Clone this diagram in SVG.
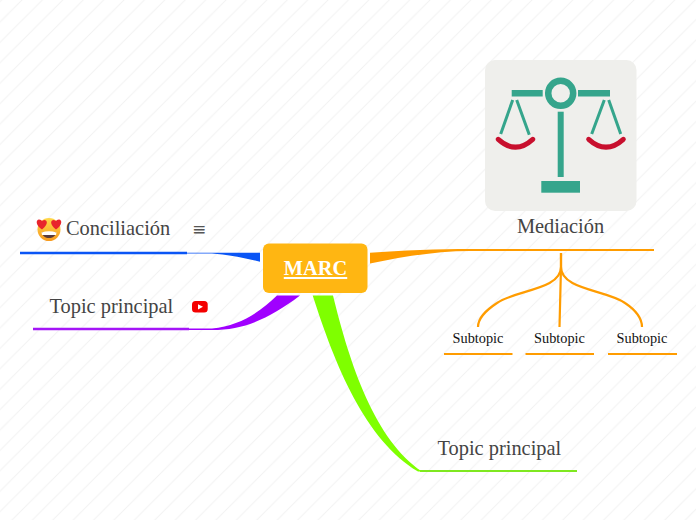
<svg xmlns="http://www.w3.org/2000/svg" width="696" height="520" viewBox="0 0 696 520">
<style>
.t{font-family:"Liberation Serif","Times New Roman",serif;fill:#444;font-size:20.4px}
.c{text-anchor:middle}
.s{font-family:"Liberation Serif","Times New Roman",serif;fill:#111;font-size:14.3px;text-anchor:middle}
.or{fill:none;stroke:#ff9c00;stroke-width:2.2}
.teal{fill:#35a58c}
.tl{stroke:#35a58c;stroke-width:3;fill:none}
.pan{stroke:#c8102e;stroke-width:5;stroke-linecap:round;fill:none}
</style>
<defs>
<pattern id="bg" patternUnits="userSpaceOnUse" width="20.4" height="20.4" patternTransform="translate(1.6 0)">
<path d="M-2,22.4 L22.4,-2 M-2,2 L2,-2 M18.4,22.4 L22.4,18.4" stroke="#f2f2f2" stroke-width="1" fill="none"/>
</pattern>
<linearGradient id="face" x1="0" y1="0" x2="0" y2="1"><stop offset="0" stop-color="#ffd84a"/><stop offset="1" stop-color="#f79a1e"/></linearGradient>
</defs>
<rect id="background" width="696" height="520" fill="#fff"/>
<rect width="696" height="520" fill="url(#bg)"/>
<g id="connectors">
<path d="M20,253 H187" stroke="#0a55f5" stroke-width="2.500" fill="none"/>
<path d="M187,252.700 H260 V261.700 C245,258 228,254.500 212,253.500 H187 Z" fill="#0a55f5"/>
<path d="M33,329 H189" stroke="#a415f7" stroke-width="2.500" fill="none"/>
<path d="M189,328.500 H212 C240,326 260,312 277,295.500 H300 C270,318 245,330 212,330 H189 Z" fill="#a000ff"/>
<path d="M468,250 H654" class="or"/>
<path d="M370,252.700 C400,250.500 440,249 470,249 V251 C440,251 405,256 370,263.500 Z" fill="#ff9c00"/>
<path d="M420,471 H577" stroke="#7fe820" stroke-width="2" fill="none"/>
<path d="M312.700,295.500 C335,365 365,440 418,471.500 H422 C375,440 350,365 333,295.500 Z" fill="#7fff00"/>
<path d="M561,253 V267 C561,290 515,290 497,303 C485,311 478,318 478,327" class="or"/>
<path d="M561,253 V267 L559.500,327" class="or"/>
<path d="M561,267 C561,290 607,290 625,303 C637,311 642,318 642,327" class="or"/>
<path d="M444,354 H512.500 M525.500,354 H594 M608,354 H677" class="or"/>
</g>
<g id="node-conciliacion">
<circle cx="49" cy="229.500" r="11.500" fill="url(#face)"/>
<path d="M42,232 H56 C56,240 42,240 42,232 Z" fill="#5a3a3a"/>
<path d="M41.500,232.500 Q49,230 56.500,232.500 L56,235 H42 Z" fill="#fff"/>
<path d="M42,229.500 C35,225 36,219.500 39,219.500 C41,219.500 42,221 42,221 C42,221 44,219 46,220.500 C48.500,223 45,227 42,229.500 Z" fill="#e8242c"/>
<path d="M56,229.500 C63,225 62,219.500 59,219.500 C57,219.500 56,221 56,221 C56,221 54,219 52,220.500 C49.500,223 53,227 56,229.500 Z" fill="#e8242c"/>
<text class="t" x="66" y="235">Conciliación</text>
<text x="199" y="235" font-family="DejaVu Sans, sans-serif" font-size="17" fill="#555" text-anchor="middle">≡</text>
</g>
<g id="node-topic-left">
<text class="t" x="49.500" y="313">Topic principal</text>
<rect x="192" y="301" width="15.700" height="11.500" rx="3.500" fill="#f40000"/>
<path d="M198,304.200 L203,306.800 L198,309.400 Z" fill="#fff"/>
</g>
<g id="node-marc">
<rect x="263" y="243.500" width="104.500" height="49.500" rx="6" fill="#ffb612"/>
<text x="315.500" y="275" font-family="Liberation Serif, Times New Roman, serif" font-size="20.400" font-weight="bold" fill="#fff" text-anchor="middle" text-decoration="underline">MARC</text>
</g>
<g id="node-mediacion">
<rect x="485" y="60" width="151.500" height="151" rx="10" fill="#efefec"/>
<rect class="teal" x="511.700" y="90" width="31" height="6.500"/>
<rect class="teal" x="578" y="90" width="32" height="6.500"/>
<circle cx="560.700" cy="93.300" r="12.500" fill="none" stroke="#35a58c" stroke-width="6.500"/>
<rect class="teal" x="557.700" y="111.700" width="6" height="65.300"/>
<rect class="teal" x="541.300" y="181" width="38.700" height="11.700"/>
<path class="tl" d="M512.700,100 L500.700,134 M516.700,100 L529.300,134.700 M604.300,100 L591.700,134 M608.700,100 L620.700,134"/>
<path class="pan" d="M498.300,139.300 Q515.500,155 532.700,139.300"/>
<path class="pan" d="M588.700,139.300 Q606,155 623.300,139.300"/>
<text class="t c" x="560.500" y="233">Mediación</text>
</g>
<g id="node-subtopic-1"><text class="s" x="478" y="343">Subtopic</text></g>
<g id="node-subtopic-2"><text class="s" x="559.500" y="343">Subtopic</text></g>
<g id="node-subtopic-3"><text class="s" x="642" y="343">Subtopic</text></g>
<g id="node-topic-bottom"><text class="t" x="437.500" y="455">Topic principal</text></g>
</svg>
